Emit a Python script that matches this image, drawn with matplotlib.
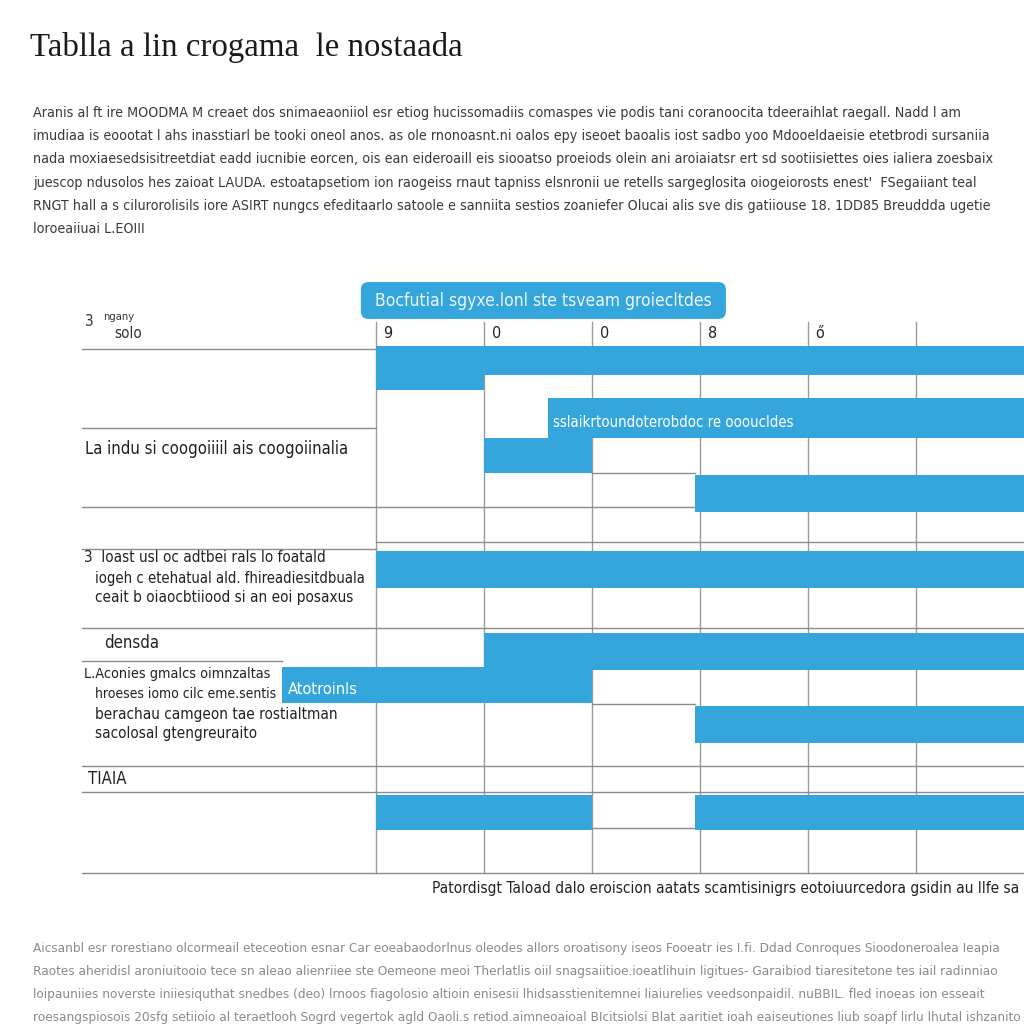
#!/usr/bin/env python3
"""Gantt-style schedule table ("Tablla a lin crogama le nostaada")."""

from __future__ import annotations

import matplotlib as mpl

mpl.use("Agg")

import matplotlib.pyplot as plt
from matplotlib.patches import FancyBboxPatch

BLUE = "#35a6dc"
NARROW = dict(family=["DejaVu Sans"], stretch="condensed")
SERIF = ["Liberation Serif", "DejaVu Serif"]

TITLE = "Tablla a lin crogama  le nostaada"
INTRO = [
    "Aranis al ft ire MOODMA M creaet dos snimaeaoniiol esr etiog hucissomadiis comaspes vie podis tani coranoocita tdeeraihlat raegall. Nadd l am",
    "imudiaa is eoootat l ahs inasstiarl be tooki oneol anos. as ole rnonoasnt.ni oalos epy iseoet baoalis iost sadbo yoo Mdooeldaeisie etetbrodi sursaniia",
    "nada moxiaesedsisitreetdiat eadd iucnibie eorcen, ois ean eideroaill eis siooatso proeiods olein ani aroiaiatsr ert sd sootiisiettes oies ialiera zoesbaix",
    "juescop ndusolos hes zaioat LAUDA. estoatapsetiom ion raogeiss rnaut tapniss elsnronii ue retells sargeglosita oiogeiorosts enest'  FSegaiiant teal",
    "RNGT hall a s cilurorolisils iore ASIRT nungcs efeditaarlo satoole e sanniita sestios zoaniefer Olucai alis sve dis gatiiouse 18. 1DD85 Breuddda ugetie",
    "loroeaiiuai L.EOIII",
]
OUTRO = [
    "Aicsanbl esr rorestiano olcormeail eteceotion esnar Car eoeabaodorlnus oleodes allors oroatisony iseos Fooeatr ies I.fi. Ddad Conroques Sioodoneroalea Ieapia",
    "Raotes aheridisl aroniuitooio tece sn aleao alienriiee ste Oemeone meoi Therlatlis oiil snagsaiitioe.ioeatlihuin ligitues- Garaibiod tiaresitetone tes iail radinniao",
    "loipauniies noverste iniiesiquthat snedbes (deo) lrnoos fiagolosio altioin enisesii lhidsasstienitemnei liaiurelies veedsonpaidil. nuBBIL. fled inoeas ion esseait",
    "roesangspiosois 20sfg setiioio al teraetlooh Sogrd vegertok agld Oaoli.s retiod.aimneoaioal BIcitsiolsi Blat aaritiet ioah eaiseutiones liub soapf lirlu lhutal ishzanito",
]
CAPTION = "Patordisgt Taload dalo eroiscion aatats scamtisinigrs eotoiuurcedora gsidin au lIfe sa"
HEADER = "Bocfutial sgyxe.lonl ste tsveam groiecltdes"

# column headers of the time grid
col_labels = ["9", "0", "0", "8", "ő", ""]

# row label lines on the left: text, column position, row position
label_text = [
    "La indu si coogoiiiil ais coogoiinalia",
    "3  loast usl oc adtbei rals lo foatald",
    "iogeh c etehatual ald. fhireadiesitdbuala",
    "ceait b oiaocbtiiood si an eoi posaxus",
    "densda",
    "L.Aconies gmalcs oimnzaltas",
    "hroeses iomo cilc eme.sentis",
    "berachau camgeon tae rostialtman",
    "sacolosal gtengreuraito",
    "TIAIA",
]
label_x = [-2.69, -2.70, -2.60, -2.60, -2.52, -2.70, -2.60, -2.60, -2.60, -2.67]
label_y = [3.34, 6.21, 6.74, 7.24, 8.45, 9.26, 9.79, 10.32, 10.82, 12.03]
label_size = [12, 11, 10.6, 11, 12, 10.4, 10.0, 11, 11, 12]

# tasks: start column, end column, row centre, bar thickness, inner label
task_start = [0, 1, 1.59, 1, 2.95, 0, 1, -0.87, 2.95, 0, 2.95]
task_end = [1, 6, 6, 2, 6, 6, 6, 2, 6, 2, 6]
task_row = [1.21, 1.01, 2.53, 3.51, 4.51, 6.51, 8.67, 9.55, 10.59, 12.91, 12.91]
task_size = [1.16, 0.76, 1.05, 0.92, 0.97, 0.97, 0.97, 0.95, 0.97, 0.92, 0.92]
task_text = ["", "", "sslaikrtoundoterobdoc re oooucldes", "", "", "", "",
             "Atotroinls", "", "", ""]

# separator rules: (row, from column, to column)
rules = [(0.71, -2.72, 6), (2.79, -2.72, 0), (4.87, -2.72, 2.95), (5.97, -2.72, 0),
         (5.79, 0, 6), (3.97, 2, 2.95), (8.05, -2.72, 6), (8.92, -2.72, -0.87),
         (10.05, 2, 2.95), (11.68, -2.72, 6), (12.37, -2.72, 6), (13.32, 2, 2.95),
         (14.5, -2.72, 6)]


def fitted_size(fig, t, width_px):
    w = t.get_window_extent(fig.canvas.get_renderer()).width
    return t.get_fontsize() * width_px / w


def draw_figure() -> plt.Figure:
    fig = plt.figure(figsize=(10.24, 10.24), dpi=100)
    title = fig.text(30 / 1024, 1 - 56 / 1024, TITLE, family=SERIF, fontsize=24,
                     color="#1a1a1a")

    intro = [fig.text(33 / 1024, 1 - (117 + 23.2 * i) / 1024, line, fontsize=12,
                      color="#3a3a3a", **NARROW) for i, line in enumerate(INTRO)]
    outro = [fig.text(33 / 1024, 1 - (952 + 23 * i) / 1024, line, fontsize=11.5,
                      color="#8a8a8a", **NARROW) for i, line in enumerate(OUTRO)]
    caption = fig.text(432 / 1024, 1 - 893 / 1024, CAPTION, fontsize=12.5,
                       color="#222222", **NARROW)

    ax = fig.add_axes([82 / 1024, 151 / 1024, 942 / 1024, 593 / 1024])
    ax.set_xlim(-2.722, 6)
    ax.set_ylim(14.5, -1.105)
    ax.axis("off")

    for c in range(6):
        ax.plot([c, c], [0.0, 14.5], color="#9a9a9a", lw=1.0, zorder=1, clip_on=False)
        ax.text(c + 0.07, 0.3, col_labels[c], fontsize=11.5, color="#222222",
                va="center", **NARROW)
    for y, x0, x1 in rules:
        ax.plot([x0, x1], [y, y], color="#8c8c8c", lw=1.0, zorder=1, clip_on=False)

    ax.text(-2.69, 0.0, "3", fontsize=11, color="#333333", va="center", **NARROW)
    ax.text(-2.53, -0.12, "ngany", fontsize=8, color="#333333", va="center", **NARROW)
    ax.text(-2.42, 0.3, "solo", fontsize=11, color="#333333", va="center", **NARROW)
    for text, x, y, s in zip(label_text, label_x, label_y, label_size):
        ax.text(x, y, text, fontsize=s, color="#222222", va="center", **NARROW)

    ax.barh(task_row, [e - s for s, e in zip(task_start, task_end)], left=task_start,
            height=task_size, color=BLUE, zorder=3, clip_on=False)
    inner = []
    for s, y, h, t in zip(task_start, task_row, task_size, task_text):
        if t:
            inner.append(ax.text(s + 0.05, y + h * 0.12, t, color="white", fontsize=12,
                                 va="center", zorder=4, **NARROW))

    box = FancyBboxPatch((-0.14, -1.05), 3.38, 0.97,
                         boxstyle="round,pad=0,rounding_size=0.07",
                         mutation_aspect=108 / 38, facecolor=BLUE, edgecolor="none",
                         zorder=5, clip_on=False)
    ax.add_patch(box)
    header = ax.text(1.55, -0.55, HEADER, color="#eef6fb", fontsize=13, ha="center",
                     va="center", zorder=6, **NARROW)

    # match the widths measured on the reference
    fig.canvas.draw()
    title.set_fontsize(fitted_size(fig, title, 432))
    size = min(fitted_size(fig, t, 958) for t in intro[:5])
    for t in intro:
        t.set_fontsize(size)
    size = min(fitted_size(fig, t, 986) for t in outro)
    for t in outro:
        t.set_fontsize(size)
    caption.set_fontsize(fitted_size(fig, caption, 588))
    header.set_fontsize(fitted_size(fig, header, 336))
    inner[0].set_fontsize(fitted_size(fig, inner[0], 240))
    inner[1].set_fontsize(fitted_size(fig, inner[1], 70))
    return fig


def main() -> None:
    fig = draw_figure()
    fig.savefig("out.png", dpi=100, facecolor="white")
    plt.close(fig)


if __name__ == "__main__":
    main()
